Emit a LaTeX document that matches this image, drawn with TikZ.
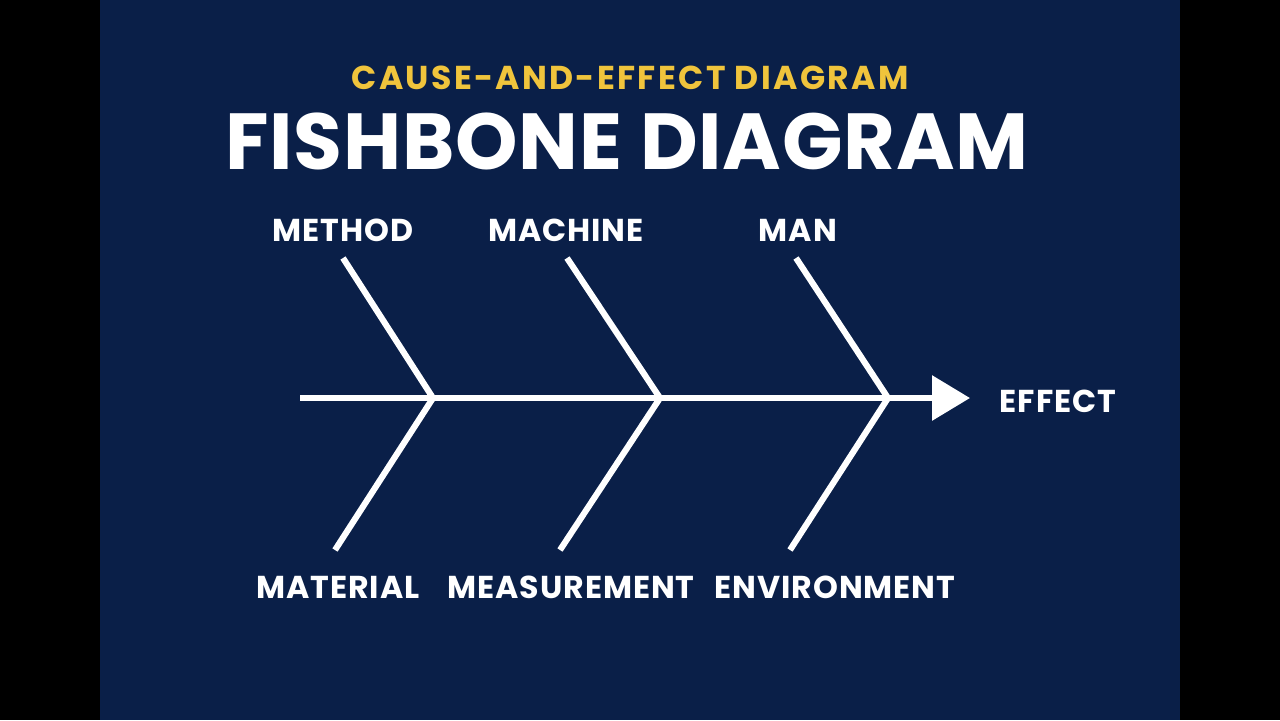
\documentclass[tikz,border=0pt]{standalone}
\usepackage{fontspec}
\setmainfont{Poppins}
\usetikzlibrary{arrows.meta}
\definecolor{navy}{RGB}{10,31,72}
\definecolor{gold}{RGB}{240,196,60}
\tikzset{
  bone/.style={draw=white,line width=1.75pt},
  lbl/.style={text=white,font=\bfseries\fontsize{9pt}{10pt}\selectfont\addfontfeatures{LetterSpace=3},inner sep=0pt}
}
\begin{document}
\begin{tikzpicture}[x=0.01cm,y=-0.01cm]
\fill[black] (0,0) rectangle (1280,720);
\fill[navy] (100,0) rectangle (1180,720);
\useasboundingbox (0,0) rectangle (1280,720);
\node[text=gold,font=\bfseries\fontsize{9.4pt}{11pt}\selectfont\addfontfeatures{LetterSpace=7},inner sep=0pt] (sub) at (630,78) {CAUSE-AND-EFFECT DIAGRAM};
\node[text=white,font=\bfseries\fontsize{22.6pt}{26pt}\selectfont\addfontfeatures{LetterSpace=1},inner sep=0pt] (title) at (627,141) {FISHBONE DIAGRAM};
\coordinate (tail) at (300,398);
\coordinate (j1) at (433,398);
\coordinate (j2) at (660,398);
\coordinate (j3) at (888,398);
\coordinate (head) at (970,398);
\draw[bone,-{Triangle[length=0.38cm,width=0.44cm]}] (tail) -- (head);
\coordinate (t1) at (343,258); \coordinate (t2) at (567,258); \coordinate (t3) at (796,258);
\coordinate (b1) at (335,550); \coordinate (b2) at (560,550); \coordinate (b3) at (790,550);
\draw[bone] (t1) -- (j1) -- (b1);
\draw[bone] (t2) -- (j2) -- (b2);
\draw[bone] (t3) -- (j3) -- (b3);
\node[lbl] (method) at (343,230) {METHOD};
\node[lbl] (machine) at (566,230) {MACHINE};
\node[lbl] (man) at (798,230) {MAN};
\node[lbl] (material) at (338,587) {MATERIAL};
\node[lbl] (measure) at (571,587) {MEASUREMENT};
\node[lbl] (env) at (835,587) {ENVIRONMENT};
\node[lbl] (effect) at (1058,401) {EFFECT};
\end{tikzpicture}
\end{document}
